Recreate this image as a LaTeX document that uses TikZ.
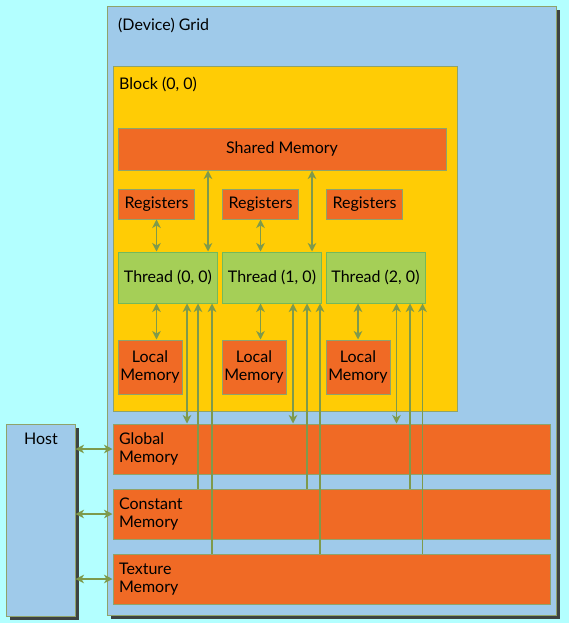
\documentclass[tikz,border=0pt]{standalone}
\usepackage{fontspec}
\setmainfont{Lato}
\usetikzlibrary{arrows.meta,shadows}

\definecolor{bgcyan}{RGB}{179,255,255}
\definecolor{gridblue}{RGB}{159,202,234}
\definecolor{blockyellow}{RGB}{255,204,5}
\definecolor{memorange}{RGB}{240,106,37}
\definecolor{threadgreen}{RGB}{165,207,87}
\definecolor{boxline}{RGB}{143,163,107}
\definecolor{threadline}{RGB}{116,185,90}
\definecolor{linkgreen}{RGB}{126,154,76}
\definecolor{shadowgray}{RGB}{61,67,67}

\begin{document}
\begin{tikzpicture}[x=1pt, y=-1pt, >={Stealth[length=8.5pt,width=8.5pt,inset=2.5pt]}]
	\tikzstyle{every node} = [font=\fontsize{16}{18}\selectfont, inner sep=0pt]
	\tikzstyle{box} = [rectangle, draw=boxline, line width=1pt]
	\tikzstyle{mem} = [box, fill=memorange, align=center]
	\tikzstyle{bigmem} = [mem, minimum height=50pt, text width=425pt, inner xsep=6pt, align=left]
	\tikzstyle{reg} = [mem, minimum width=76pt, minimum height=30pt]
	\tikzstyle{local} = [mem, minimum width=64pt, minimum height=54pt]
	\tikzstyle{thread} = [rectangle, draw=threadline, line width=1pt, fill=threadgreen, minimum width=99pt, minimum height=51pt]
	\tikzstyle{holder} = [box, general shadow={fill=shadowgray, shadow xshift=3.5pt, shadow yshift=-3.5pt}]
	\tikzstyle{link} = [draw=linkgreen, line width=1.3pt]
	\fill[bgcyan] (0,0) rectangle (569,623);
	\useasboundingbox (0,0) rectangle (569,623);
	\node[holder, fill=gridblue, minimum width=449pt, minimum height=608pt] (grid) at (331.5,311) {};
	\node[holder, fill=gridblue, minimum width=69pt, minimum height=192pt] (host) at (40.5,520) {};
	\node[anchor=base west] (gridlbl) at (118,30.5) {(Device) Grid};
	\node[anchor=base] (hostlbl) at (41,444) {Host};
	\node[box, fill=blockyellow, minimum width=344pt, minimum height=344pt] (block) at (285,239) {};
	\node[anchor=base west] (blocklbl) at (119,90) {Block (0, 0)};
	\node[mem, minimum width=328pt, minimum height=42pt] (sm) at (282,149) {Shared Memory};
	\node[reg] (r0) at (156.5,204) {Registers};
	\node[reg] (r1) at (260.5,204) {Registers};
	\node[reg] (r2) at (364.5,204) {Registers};
	\node[thread] (t0) at (168,277.5) {Thread (0, 0)};
	\node[thread] (t1) at (272,277.5) {Thread (1, 0)};
	\node[thread] (t2) at (375.5,277.5) {Thread (2, 0)};
	\node[local] (l0) at (150,367) {Local\\Memory};
	\node[local] (l1) at (254,367) {Local\\Memory};
	\node[local] (l2) at (358,367) {Local\\Memory};
	\node[bigmem] (gm) at (331.5,449) {Global\\Memory};
	\node[bigmem] (cm) at (331.5,514) {Constant\\Memory};
	\node[bigmem] (tm) at (331.5,579) {Texture\\Memory};
	\draw[link, <->] (r0.south) -- (r0.south |- t0.north);
	\draw[link, <->] (r1.south) -- (r1.south |- t1.north);
	\draw[link, <->] ([xshift=40]t0.north |- sm.south) -- ([xshift=40]t0.north);
	\draw[link, <->] ([xshift=40]t1.north |- sm.south) -- ([xshift=40]t1.north);
	\draw[link, <->] (t0.south -| r0) -- (l0.north -| r0);
	\draw[link, <->] (t1.south -| r1) -- (l1.north -| r1);
	\draw[link, <->] (t2.south -| l2) -- (l2.north);
	\foreach \t/\a/\b/\c in {t0/19/30/44, t1/21/35/48, t2/21/34.5/47} {
		\draw[link, <->] ([xshift=\a]\t.south) -- ([xshift=\a]\t.south |- gm.north);
		\draw[link, ->] ([xshift=\b]\t.south |- cm.north) -- ([xshift=\b]\t.south);
		\draw[link, ->] ([xshift=\c]\t.south |- tm.north) -- ([xshift=\c]\t.south);
	}
	\foreach \m in {gm, cm, tm}
		\draw[link, <->] (host.east |- \m.west) -- (\m.west);
\end{tikzpicture}
\end{document}
